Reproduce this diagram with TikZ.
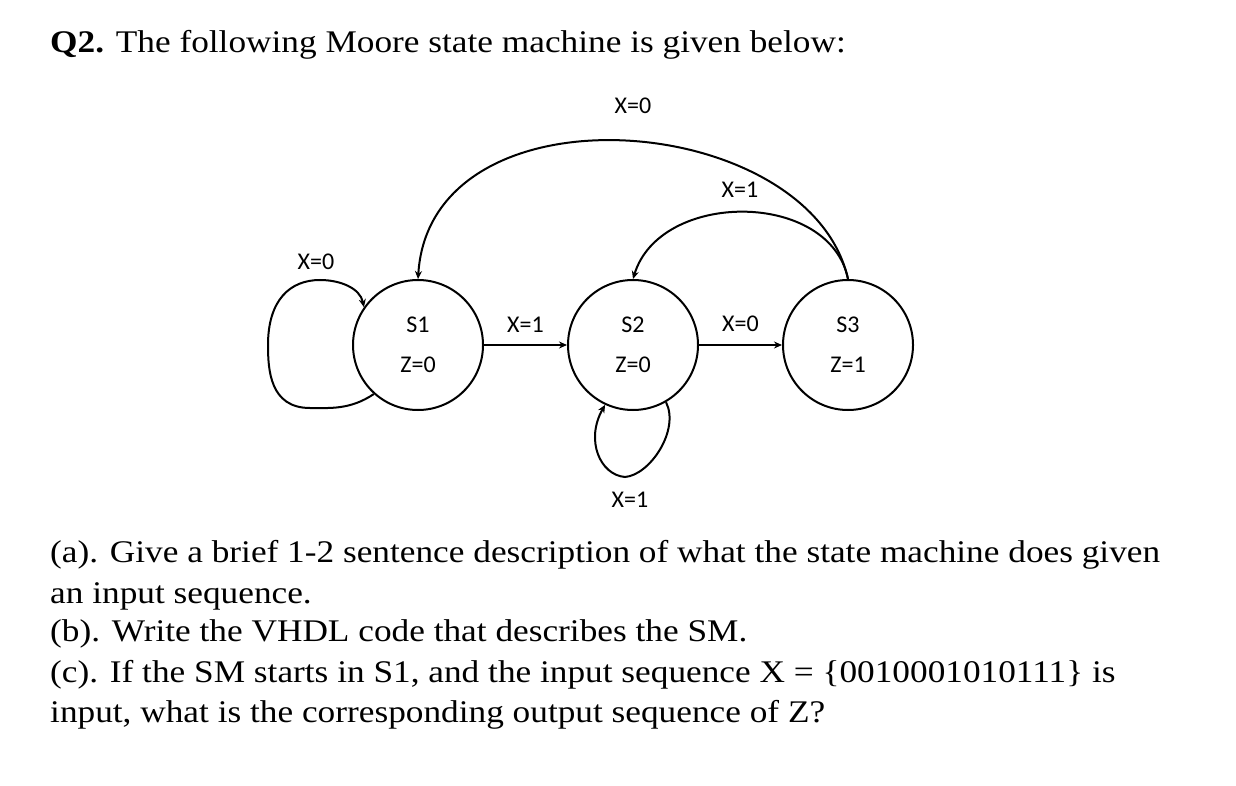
\documentclass[tikz,border=0pt]{standalone}
\usepackage{fontspec}
\setmainfont[FakeStretch=1.12]{Liberation Serif}
\newfontfamily\lbl{Carlito}
\usetikzlibrary{arrows.meta}
\begin{document}
\begin{tikzpicture}[x=1pt,y=-1pt,
  st/.style={circle,draw,line width=2pt,minimum size=130pt,inner sep=0pt,align=center,font=\lbl\fontsize{24}{40}\selectfont},
  lab/.style={font=\lbl\fontsize{24}{26}\selectfont,inner sep=0pt},
  tr/.style={line width=2pt,-{Stealth[length=8pt,width=7pt]}},
  txt/.style={anchor=west,inner sep=0pt,font=\fontsize{31.5}{36}\selectfont}]
\useasboundingbox (0,0) rectangle (1236,786);
\node[st] (s1) at (418,345) {S1\\Z=0};
\node[st] (s2) at (633,345) {S2\\Z=0};
\node[st] (s3) at (848,345) {S3\\Z=1};
\draw[tr] (s1.228) .. controls (350,410) and (330,408) .. (310,408) .. controls (270,408) and (268,370) .. (268,345) .. controls (268,300) and (290,280) .. (320,280) .. controls (340,280) and (360,288) .. (s1.145);
\node[lab] (x0a) at (316,262) {X=0};
\draw[tr] (s1) -- (s2) node[lab,midway,above=12pt] (x1a) {X=1};
\draw[tr] (s2) -- (s3) node[lab,midway,above=12pt] (x0b) {X=0};
\draw[tr] (s2.-60) .. controls (680,430) and (650,475) .. (625,477) .. controls (600,475) and (585,440) .. (s2.-115);
\node[lab] (x1c) at (630,500) {X=1};
\draw[tr] (s3.90) .. controls (830,190) and (660,190) .. (s2.90);
\node[lab] (x1b) at (740,190) {X=1};
\draw[tr] (s3.90) .. controls (810,110) and (430,80) .. (s1.90);
\node[lab] (x0c) at (633,106) {X=0};
\node[txt] (t0) at (50,45) {\textbf{Q2.} The following Moore state machine is given below:};
\node[txt] (ta) at (50,555) {(a). Give a brief 1-2 sentence description of what the state machine does given};
\node[txt] (ta2) at (50,596) {an input sequence.};
\node[txt] (tb) at (50,634) {(b). Write the VHDL code that describes the SM.};
\node[txt] (tc) at (50,675) {(c). If the SM starts in S1, and the input sequence X = \{0010001010111\} is};
\node[txt] (tc2) at (50,715) {input, what is the corresponding output sequence of Z?};
\end{tikzpicture}
\end{document}
